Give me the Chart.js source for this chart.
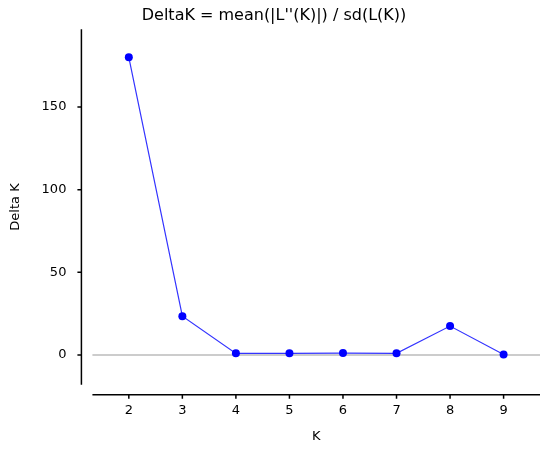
<!DOCTYPE html>
<html>
<head>
<meta charset="utf-8">
<script src="https://cdn.jsdelivr.net/npm/chart.js@4"></script>
<style>
  body { margin: 0; background: #fff; }
  #wrap { width: 550px; height: 450px; }
</style>
</head>
<body>
<div id="wrap"><canvas id="grafico"></canvas></div>
<script>
const valoresK = [2, 3, 4, 5, 6, 7, 8, 9];
const deltaK = [180, 23.5, 1, 1, 1.2, 1, 17.5, 0.3];
const ticksY = [0, 50, 100, 150];

// desenha eixos separados (estilo matplotlib) e linha do zero
const eixosPlugin = {
  id: 'eixos',
  beforeDatasetsDraw(chart) {
    const { ctx, chartArea, scales } = chart;
    const y0 = scales.y.getPixelForValue(0);
    ctx.save();
    ctx.strokeStyle = '#bbb';
    ctx.lineWidth = 1.5;
    ctx.beginPath();
    ctx.moveTo(chartArea.left, y0);
    ctx.lineTo(chartArea.right, y0);
    ctx.stroke();

    ctx.strokeStyle = '#000';
    ctx.lineWidth = 1.5;
    const xEixoY = chartArea.left - 11;
    const yEixoX = chartArea.bottom + 10;
    ctx.beginPath();
    ctx.moveTo(xEixoY, chartArea.top);
    ctx.lineTo(xEixoY, chartArea.bottom);
    ctx.moveTo(chartArea.left, yEixoX);
    ctx.lineTo(chartArea.right, yEixoX);
    ticksY.forEach(v => {
      const p = scales.y.getPixelForValue(v);
      ctx.moveTo(xEixoY, p);
      ctx.lineTo(xEixoY - 4, p);
    });
    valoresK.forEach(k => {
      const p = scales.x.getPixelForValue(k);
      ctx.moveTo(p, yEixoX);
      ctx.lineTo(p, yEixoX + 4);
    });
    ctx.stroke();
    ctx.restore();
  }
};

new Chart(document.getElementById('grafico'), {
  type: 'line',
  data: {
    datasets: [{
      data: valoresK.map((k, i) => ({ x: k, y: deltaK[i] })),
      borderColor: '#3333ff',
      backgroundColor: '#0000ff',
      borderWidth: 1.2,
      pointRadius: 4,
      pointBorderWidth: 0,
      tension: 0
    }]
  },
  options: {
    responsive: true,
    maintainAspectRatio: false,
    animation: false,
    layout: { padding: { top: 0, right: 10, bottom: 6, left: 8 } },
    plugins: {
      legend: { display: false },
      tooltip: { enabled: false },
      title: {
        display: true,
        text: "DeltaK = mean(|L''(K)|) / sd(L(K))",
        color: '#000',
        font: { family: 'DejaVu Sans', size: 16, weight: 'normal' },
        padding: { top: 6, bottom: 4 }
      }
    },
    scales: {
      x: {
        type: 'linear',
        min: 1.32,
        max: 9.68,
        afterBuildTicks: axis => { axis.ticks = valoresK.map(v => ({ value: v })); },
        grid: { display: false },
        border: { display: false },
        ticks: { color: '#000', padding: 10, font: { family: 'DejaVu Sans', size: 13 } },
        title: { display: true, text: 'K', color: '#000', padding: 0, font: { family: 'DejaVu Sans', size: 13 } }
      },
      y: {
        min: -18,
        max: 197,
        afterBuildTicks: axis => { axis.ticks = ticksY.map(v => ({ value: v })); },
        grid: { display: false },
        border: { display: false },
        ticks: { color: '#000', padding: 18, font: { family: 'DejaVu Sans', size: 13 } },
        title: { display: true, text: 'Delta K', color: '#000', padding: 0, font: { family: 'DejaVu Sans', size: 13 } }
      }
    }
  },
  plugins: [eixosPlugin]
});
</script>
</body>
</html>
